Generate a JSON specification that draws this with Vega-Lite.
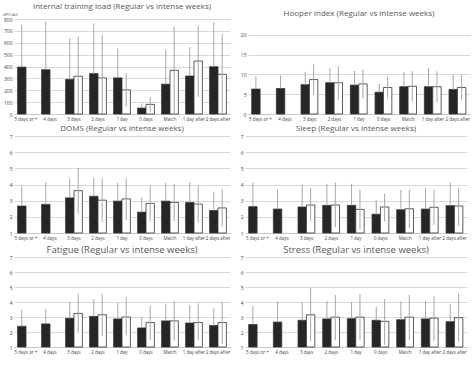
{
  "$schema": "https://vega.github.io/schema/vega-lite/v6.json",
  "padding": {"left": 2, "right": 2, "top": 3, "bottom": 1},
  "background": "white",
  "datasets": {
    "all": [
      {"p":"L","d":"5 days or +","s":"Regular","m":395,"lo":395,"hi":752},
      {"p":"L","d":"4 days","s":"Regular","m":373,"lo":373,"hi":780},
      {"p":"L","d":"3 days","s":"Regular","m":292,"lo":292,"hi":638},
      {"p":"L","d":"3 days","s":"Intense","m":318,"lo":0,"hi":652},
      {"p":"L","d":"2 days","s":"Regular","m":340,"lo":340,"hi":763},
      {"p":"L","d":"2 days","s":"Intense","m":304,"lo":0,"hi":669},
      {"p":"L","d":"1 day","s":"Regular","m":304,"lo":304,"hi":554},
      {"p":"L","d":"1 day","s":"Intense","m":203,"lo":61,"hi":345},
      {"p":"L","d":"0 days","s":"Regular","m":50,"lo":50,"hi":89},
      {"p":"L","d":"0 days","s":"Intense","m":81,"lo":19,"hi":145},
      {"p":"L","d":"Match","s":"Regular","m":251,"lo":251,"hi":543},
      {"p":"L","d":"Match","s":"Intense","m":368,"lo":5,"hi":735},
      {"p":"L","d":"1 day after","s":"Regular","m":320,"lo":320,"hi":563},
      {"p":"L","d":"1 day after","s":"Intense","m":446,"lo":145,"hi":744},
      {"p":"L","d":"2 days after","s":"Regular","m":398,"lo":398,"hi":772},
      {"p":"L","d":"2 days after","s":"Intense","m":334,"lo":0,"hi":674},

      {"p":"H","d":"5 days or +","s":"Regular","m":6.3,"lo":6.3,"hi":9.5},
      {"p":"H","d":"4 days","s":"Regular","m":6.45,"lo":6.45,"hi":9.8},
      {"p":"H","d":"3 days","s":"Regular","m":7.4,"lo":7.4,"hi":10.7},
      {"p":"H","d":"3 days","s":"Intense","m":8.7,"lo":4.8,"hi":12.6},
      {"p":"H","d":"2 days","s":"Regular","m":7.9,"lo":7.9,"hi":11.5},
      {"p":"H","d":"2 days","s":"Intense","m":7.9,"lo":3.5,"hi":12.1},
      {"p":"H","d":"1 day","s":"Regular","m":7.3,"lo":7.3,"hi":10.9},
      {"p":"H","d":"1 day","s":"Intense","m":7.6,"lo":3.9,"hi":11.3},
      {"p":"H","d":"0 days","s":"Regular","m":5.5,"lo":5.5,"hi":7.7},
      {"p":"H","d":"0 days","s":"Intense","m":6.7,"lo":4.0,"hi":9.4},
      {"p":"H","d":"Match","s":"Regular","m":6.9,"lo":6.9,"hi":10.6},
      {"p":"H","d":"Match","s":"Intense","m":7.0,"lo":3.1,"hi":10.8},
      {"p":"H","d":"1 day after","s":"Regular","m":6.9,"lo":6.9,"hi":11.6},
      {"p":"H","d":"1 day after","s":"Intense","m":6.9,"lo":2.9,"hi":10.8},
      {"p":"H","d":"2 days after","s":"Regular","m":6.2,"lo":6.2,"hi":9.8},
      {"p":"H","d":"2 days after","s":"Intense","m":6.7,"lo":3.4,"hi":9.8},

      {"p":"D","d":"5 days or +","s":"Regular","m":2.67,"lo":2.67,"hi":3.88},
      {"p":"D","d":"4 days","s":"Regular","m":2.77,"lo":2.77,"hi":4.14},
      {"p":"D","d":"3 days","s":"Regular","m":3.17,"lo":3.17,"hi":4.38},
      {"p":"D","d":"3 days","s":"Intense","m":3.62,"lo":2.19,"hi":5.02},
      {"p":"D","d":"2 days","s":"Regular","m":3.27,"lo":3.27,"hi":4.42},
      {"p":"D","d":"2 days","s":"Intense","m":3.03,"lo":1.68,"hi":4.38},
      {"p":"D","d":"1 day","s":"Regular","m":2.97,"lo":2.97,"hi":4.10},
      {"p":"D","d":"1 day","s":"Intense","m":3.11,"lo":1.83,"hi":4.38},
      {"p":"D","d":"0 days","s":"Regular","m":2.29,"lo":2.29,"hi":3.21},
      {"p":"D","d":"0 days","s":"Intense","m":2.83,"lo":1.72,"hi":3.92},
      {"p":"D","d":"Match","s":"Regular","m":2.97,"lo":2.97,"hi":4.10},
      {"p":"D","d":"Match","s":"Intense","m":2.89,"lo":1.74,"hi":4.02},
      {"p":"D","d":"1 day after","s":"Regular","m":2.89,"lo":2.89,"hi":4.14},
      {"p":"D","d":"1 day after","s":"Intense","m":2.79,"lo":1.64,"hi":3.92},
      {"p":"D","d":"2 days after","s":"Regular","m":2.39,"lo":2.39,"hi":3.56},
      {"p":"D","d":"2 days after","s":"Intense","m":2.55,"lo":1.40,"hi":3.70},

      {"p":"S","d":"5 days or +","s":"Regular","m":2.63,"lo":2.63,"hi":4.13},
      {"p":"S","d":"4 days","s":"Regular","m":2.48,"lo":2.48,"hi":3.70},
      {"p":"S","d":"3 days","s":"Regular","m":2.61,"lo":2.61,"hi":3.99},
      {"p":"S","d":"3 days","s":"Intense","m":2.73,"lo":1.75,"hi":3.78},
      {"p":"S","d":"2 days","s":"Regular","m":2.71,"lo":2.71,"hi":4.05},
      {"p":"S","d":"2 days","s":"Intense","m":2.73,"lo":1.37,"hi":4.13},
      {"p":"S","d":"1 day","s":"Regular","m":2.71,"lo":2.71,"hi":4.05},
      {"p":"S","d":"1 day","s":"Intense","m":2.46,"lo":1.24,"hi":3.68},
      {"p":"S","d":"0 days","s":"Regular","m":2.16,"lo":2.16,"hi":3.03},
      {"p":"S","d":"0 days","s":"Intense","m":2.61,"lo":1.71,"hi":3.44},
      {"p":"S","d":"Match","s":"Regular","m":2.44,"lo":2.44,"hi":3.66},
      {"p":"S","d":"Match","s":"Intense","m":2.50,"lo":1.30,"hi":3.68},
      {"p":"S","d":"1 day after","s":"Regular","m":2.48,"lo":2.48,"hi":3.80},
      {"p":"S","d":"1 day after","s":"Intense","m":2.59,"lo":1.51,"hi":3.68},
      {"p":"S","d":"2 days after","s":"Regular","m":2.69,"lo":2.69,"hi":4.11},
      {"p":"S","d":"2 days after","s":"Intense","m":2.67,"lo":1.45,"hi":3.80},

      {"p":"F","d":"5 days or +","s":"Regular","m":2.38,"lo":2.38,"hi":3.48},
      {"p":"F","d":"4 days","s":"Regular","m":2.54,"lo":2.54,"hi":3.55},
      {"p":"F","d":"3 days","s":"Regular","m":2.91,"lo":2.91,"hi":4.01},
      {"p":"F","d":"3 days","s":"Intense","m":3.24,"lo":1.95,"hi":4.56},
      {"p":"F","d":"2 days","s":"Regular","m":3.04,"lo":3.04,"hi":4.19},
      {"p":"F","d":"2 days","s":"Intense","m":3.15,"lo":1.73,"hi":4.54},
      {"p":"F","d":"1 day","s":"Regular","m":2.87,"lo":2.87,"hi":3.92},
      {"p":"F","d":"1 day","s":"Intense","m":3.00,"lo":1.77,"hi":4.32},
      {"p":"F","d":"0 days","s":"Regular","m":2.27,"lo":2.27,"hi":3.02},
      {"p":"F","d":"0 days","s":"Intense","m":2.63,"lo":1.48,"hi":3.77},
      {"p":"F","d":"Match","s":"Regular","m":2.74,"lo":2.74,"hi":3.90},
      {"p":"F","d":"Match","s":"Intense","m":2.74,"lo":1.42,"hi":4.08},
      {"p":"F","d":"1 day after","s":"Regular","m":2.60,"lo":2.60,"hi":3.79},
      {"p":"F","d":"1 day after","s":"Intense","m":2.63,"lo":1.44,"hi":3.90},
      {"p":"F","d":"2 days after","s":"Regular","m":2.43,"lo":2.43,"hi":3.57},
      {"p":"F","d":"2 days after","s":"Intense","m":2.63,"lo":1.20,"hi":4.01},

      {"p":"T","d":"5 days or +","s":"Regular","m":2.50,"lo":2.50,"hi":3.73},
      {"p":"T","d":"4 days","s":"Regular","m":2.66,"lo":2.66,"hi":4.03},
      {"p":"T","d":"3 days","s":"Regular","m":2.78,"lo":2.78,"hi":3.98},
      {"p":"T","d":"3 days","s":"Intense","m":3.15,"lo":1.39,"hi":4.93},
      {"p":"T","d":"2 days","s":"Regular","m":2.87,"lo":2.87,"hi":4.09},
      {"p":"T","d":"2 days","s":"Intense","m":2.99,"lo":1.46,"hi":4.46},
      {"p":"T","d":"1 day","s":"Regular","m":2.89,"lo":2.89,"hi":4.00},
      {"p":"T","d":"1 day","s":"Intense","m":2.99,"lo":1.46,"hi":4.53},
      {"p":"T","d":"0 days","s":"Regular","m":2.78,"lo":2.78,"hi":3.66},
      {"p":"T","d":"0 days","s":"Intense","m":2.71,"lo":1.16,"hi":4.19},
      {"p":"T","d":"Match","s":"Regular","m":2.82,"lo":2.82,"hi":4.05},
      {"p":"T","d":"Match","s":"Intense","m":2.99,"lo":1.44,"hi":4.46},
      {"p":"T","d":"1 day after","s":"Regular","m":2.87,"lo":2.87,"hi":4.09},
      {"p":"T","d":"1 day after","s":"Intense","m":2.92,"lo":1.39,"hi":4.39},
      {"p":"T","d":"2 days after","s":"Regular","m":2.69,"lo":2.69,"hi":3.86},
      {"p":"T","d":"2 days after","s":"Intense","m":2.96,"lo":1.35,"hi":4.58}
    ]
  },
  "data": {"name": "all"},
  "vconcat": [
    {"hconcat": [
      {
        "width": 216, "height": 95,
        "title": {"text": "Internal training load (Regular vs intense weeks)", "fontSize": 8},
        "transform": [{"filter": "datum.p == 'L'"}],
        "encoding": {
          "x": {"field": "d", "type": "nominal", "sort": ["5 days or +","4 days","3 days","2 days","1 day","0 days","Match","1 day after","2 days after"], "scale": {"paddingInner": 0.3, "paddingOuter": 0.15}, "axis": {"title": null, "labelAngle": 0}},
          "xOffset": {"field": "s", "type": "nominal", "scale": {"domain": ["Regular","Intense"]}}
        },
        "layer": [
          {"mark": {"type": "bar", "stroke": "#333333", "strokeWidth": 0.8},
           "encoding": {
             "y": {"field": "m", "type": "quantitative", "scale": {"domain": [0, 800]}, "axis": {"title": "sRPE (AU)", "titleAngle": 0, "titleFontSize": 3.5, "titleFontWeight": "normal", "titleAlign": "left", "titleX": -12, "titleY": -3, "titleColor": "#555", "values": [0,100,200,300,400,500,600,700,800]}},
             "color": {"field": "s", "type": "nominal", "scale": {"domain": ["Regular","Intense"], "range": ["#262626","#ffffff"]}, "legend": null}
           }},
          {"mark": {"type": "rule", "color": "#a6a6a6", "strokeWidth": 1},
           "encoding": {"y": {"field": "lo", "type": "quantitative", "scale": {"domain": [0, 800]}, "axis": {"title": "sRPE (AU)", "titleAngle": 0, "titleFontSize": 3.5, "titleFontWeight": "normal", "titleAlign": "left", "titleX": -12, "titleY": -3, "titleColor": "#555", "values": [0,100,200,300,400,500,600,700,800]}}, "y2": {"field": "hi"}}}
        ]
      },
      {
        "width": 222, "height": 95,
        "title": {"text": "Hooper Index (Regular vs intense weeks)", "fontSize": 8},
        "transform": [{"filter": "datum.p == 'H'"}],
        "encoding": {
          "x": {"field": "d", "type": "nominal", "sort": ["5 days or +","4 days","3 days","2 days","1 day","0 days","Match","1 day after","2 days after"], "scale": {"paddingInner": 0.3, "paddingOuter": 0.15}, "axis": {"title": null, "labelAngle": 0}},
          "xOffset": {"field": "s", "type": "nominal", "scale": {"domain": ["Regular","Intense"]}}
        },
        "layer": [
          {"mark": {"type": "bar", "stroke": "#333333", "strokeWidth": 0.8},
           "encoding": {
             "y": {"field": "m", "type": "quantitative", "scale": {"domain": [0, 24]}, "axis": {"title": null, "values": [0,5,10,15,20]}},
             "color": {"field": "s", "type": "nominal", "scale": {"domain": ["Regular","Intense"], "range": ["#262626","#ffffff"]}, "legend": null}
           }},
          {"mark": {"type": "rule", "color": "#a6a6a6", "strokeWidth": 1},
           "encoding": {"y": {"field": "lo", "type": "quantitative", "scale": {"domain": [0, 24]}, "axis": {"title": null, "values": [0,5,10,15,20]}}, "y2": {"field": "hi"}}}
        ]
      }
    ]},
    {"hconcat": [
      {
        "width": 216, "height": 97,
        "title": {"text": "DOMS (Regular vs intense weeks)", "fontSize": 8},
        "transform": [{"filter": "datum.p == 'D'"}],
        "encoding": {
          "x": {"field": "d", "type": "nominal", "sort": ["5 days or +","4 days","3 days","2 days","1 day","0 days","Match","1 day after","2 days after"], "scale": {"paddingInner": 0.3, "paddingOuter": 0.15}, "axis": {"title": null, "labelAngle": 0}},
          "xOffset": {"field": "s", "type": "nominal", "scale": {"domain": ["Regular","Intense"]}}
        },
        "layer": [
          {"mark": {"type": "bar", "stroke": "#333333", "strokeWidth": 0.8},
           "encoding": {
             "y": {"field": "m", "type": "quantitative", "scale": {"domain": [1, 7], "zero": false}, "axis": {"title": null, "values": [1,2,3,4,5,6,7]}},
             "y2": {"datum": 1},
             "color": {"field": "s", "type": "nominal", "scale": {"domain": ["Regular","Intense"], "range": ["#262626","#ffffff"]}, "legend": null}
           }},
          {"mark": {"type": "rule", "color": "#a6a6a6", "strokeWidth": 1},
           "encoding": {"y": {"field": "lo", "type": "quantitative", "scale": {"domain": [1, 7], "zero": false}, "axis": {"title": null, "values": [1,2,3,4,5,6,7]}}, "y2": {"field": "hi"}}}
        ]
      },
      {
        "width": 222, "height": 97,
        "title": {"text": "Sleep (Regular vs intense weeks)", "fontSize": 8},
        "transform": [{"filter": "datum.p == 'S'"}],
        "encoding": {
          "x": {"field": "d", "type": "nominal", "sort": ["5 days or +","4 days","3 days","2 days","1 day","0 days","Match","1 day after","2 days after"], "scale": {"paddingInner": 0.3, "paddingOuter": 0.15}, "axis": {"title": null, "labelAngle": 0}},
          "xOffset": {"field": "s", "type": "nominal", "scale": {"domain": ["Regular","Intense"]}}
        },
        "layer": [
          {"mark": {"type": "bar", "stroke": "#333333", "strokeWidth": 0.8},
           "encoding": {
             "y": {"field": "m", "type": "quantitative", "scale": {"domain": [1, 7], "zero": false}, "axis": {"title": null, "values": [1,2,3,4,5,6,7]}},
             "y2": {"datum": 1},
             "color": {"field": "s", "type": "nominal", "scale": {"domain": ["Regular","Intense"], "range": ["#262626","#ffffff"]}, "legend": null}
           }},
          {"mark": {"type": "rule", "color": "#a6a6a6", "strokeWidth": 1},
           "encoding": {"y": {"field": "lo", "type": "quantitative", "scale": {"domain": [1, 7], "zero": false}, "axis": {"title": null, "values": [1,2,3,4,5,6,7]}}, "y2": {"field": "hi"}}}
        ]
      }
    ]},
    {"hconcat": [
      {
        "width": 216, "height": 90,
        "title": {"text": "Fatigue  (Regular vs intense weeks)", "fontSize": 9.5},
        "transform": [{"filter": "datum.p == 'F'"}],
        "encoding": {
          "x": {"field": "d", "type": "nominal", "sort": ["5 days or +","4 days","3 days","2 days","1 day","0 days","Match","1 day after","2 days after"], "scale": {"paddingInner": 0.3, "paddingOuter": 0.15}, "axis": {"title": null, "labelAngle": 0}},
          "xOffset": {"field": "s", "type": "nominal", "scale": {"domain": ["Regular","Intense"]}}
        },
        "layer": [
          {"mark": {"type": "bar", "stroke": "#333333", "strokeWidth": 0.8},
           "encoding": {
             "y": {"field": "m", "type": "quantitative", "scale": {"domain": [1, 7], "zero": false}, "axis": {"title": null, "values": [1,2,3,4,5,6,7]}},
             "y2": {"datum": 1},
             "color": {"field": "s", "type": "nominal", "scale": {"domain": ["Regular","Intense"], "range": ["#262626","#ffffff"]}, "legend": null}
           }},
          {"mark": {"type": "rule", "color": "#a6a6a6", "strokeWidth": 1},
           "encoding": {"y": {"field": "lo", "type": "quantitative", "scale": {"domain": [1, 7], "zero": false}, "axis": {"title": null, "values": [1,2,3,4,5,6,7]}}, "y2": {"field": "hi"}}}
        ]
      },
      {
        "width": 222, "height": 90,
        "title": {"text": "Stress (Regular vs intense weeks)", "fontSize": 9.5},
        "transform": [{"filter": "datum.p == 'T'"}],
        "encoding": {
          "x": {"field": "d", "type": "nominal", "sort": ["5 days or +","4 days","3 days","2 days","1 day","0 days","Match","1 day after","2 days after"], "scale": {"paddingInner": 0.3, "paddingOuter": 0.15}, "axis": {"title": null, "labelAngle": 0}},
          "xOffset": {"field": "s", "type": "nominal", "scale": {"domain": ["Regular","Intense"]}}
        },
        "layer": [
          {"mark": {"type": "bar", "stroke": "#333333", "strokeWidth": 0.8},
           "encoding": {
             "y": {"field": "m", "type": "quantitative", "scale": {"domain": [1, 7], "zero": false}, "axis": {"title": null, "values": [1,2,3,4,5,6,7]}},
             "y2": {"datum": 1},
             "color": {"field": "s", "type": "nominal", "scale": {"domain": ["Regular","Intense"], "range": ["#262626","#ffffff"]}, "legend": null}
           }},
          {"mark": {"type": "rule", "color": "#a6a6a6", "strokeWidth": 1},
           "encoding": {"y": {"field": "lo", "type": "quantitative", "scale": {"domain": [1, 7], "zero": false}, "axis": {"title": null, "values": [1,2,3,4,5,6,7]}}, "y2": {"field": "hi"}}}
        ]
      }
    ]}
  ],
  "spacing": 4,
  "config": {
    "font": "Open Sans",
    "view": {"stroke": null},
    "concat": {"spacing": 10},
    "title": {"color": "#595959", "fontWeight": "normal", "offset": 1, "anchor": "middle", "font": "Open Sans"},
    "axis": {"labelFontSize": 5, "labelColor": "#444444", "ticks": false, "labelPadding": 2, "labelOverlap": false, "labelFlush": false, "gridColor": "#d9d9d9", "domainColor": "#c8c8c8"},
    "axisX": {"grid": false, "domain": true, "labelFontSize": 4.5},
    "axisY": {"grid": true, "domain": false}
  }
}
